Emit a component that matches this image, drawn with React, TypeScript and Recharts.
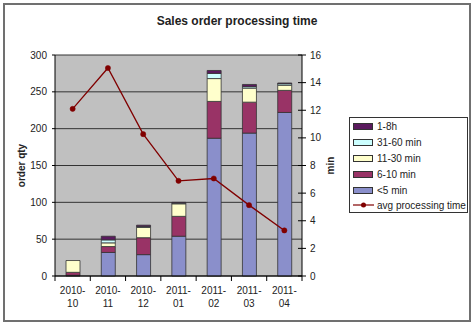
import React from 'react';
import {
  ComposedChart,
  Bar,
  Line,
  XAxis,
  YAxis,
  CartesianGrid,
  Legend,
  Label,
} from 'recharts';

// Monthly order counts split by processing-time bucket, plus the average time in minutes
const months = ['2010-10', '2010-11', '2010-12', '2011-01', '2011-02', '2011-03', '2011-04'];
const under5 = [1, 32, 29, 54, 187, 194, 222];
const min6to10 = [4, 8, 23, 27, 50, 42, 30];
const min11to30 = [16, 5, 14, 17, 31, 19, 7];
const min31to60 = [0, 4, 1, 1, 7, 2, 2];
const hours1to8 = [0, 5, 2, 1, 4, 3, 1];
const avgTime = [12.1, 15.06, 10.27, 6.89, 7.06, 5.13, 3.3];

const qtyTicks = [0, 50, 100, 150, 200, 250, 300];
const minTicks = [0, 2, 4, 6, 8, 10, 12, 14, 16];

const data = months.map((m, i) => ({
  month: m,
  under5: under5[i],
  min6to10: min6to10[i],
  min11to30: min11to30[i],
  min31to60: min31to60[i],
  hours1to8: hours1to8[i],
  avg: avgTime[i],
}));

const FONT = '"Liberation Sans", Arial, sans-serif';
const TEXT = '#222';

const C = {
  under5: '#8a8fcb',
  min6to10: '#993366',
  min11to30: '#ffffcc',
  min31to60: '#ccffff',
  hours1to8: '#5a1a5e',
  line: '#800000',
};

const legendItems = [
  { label: '1-8h', color: C.hours1to8 },
  { label: '31-60 min', color: C.min31to60 },
  { label: '11-30 min', color: C.min11to30 },
  { label: '6-10 min', color: C.min6to10 },
  { label: '<5 min', color: C.under5 },
];

const MonthTick = (props: any) => {
  const { x, y, payload, index, visibleTicksCount, width } = props;
  const band = width && visibleTicksCount ? width / visibleTicksCount : 35.4;
  const [year, mon] = String(payload.value).split('-');
  const last = index === (visibleTicksCount ?? 7) - 1;
  return (
    <g>
      <line x1={x - band / 2} x2={x - band / 2} y1={y} y2={y + 5} stroke="#000" />
      {last && <line x1={x + band / 2} x2={x + band / 2} y1={y} y2={y + 5} stroke="#000" />}
      <text x={x} y={y + 18} textAnchor="middle" fontSize={10} fontFamily={FONT} fill={TEXT}>
        {year + '-'}
      </text>
      <text x={x} y={y + 31} textAnchor="middle" fontSize={10} fontFamily={FONT} fill={TEXT}>
        {mon}
      </text>
    </g>
  );
};

const RightTick = (props: any) => {
  const { x, y, payload } = props;
  return (
    <g>
      <line x1={x - 4} x2={x + 4} y1={y} y2={y} stroke="#000" />
      <text x={x + 8} y={y + 3.5} fontSize={10} fontFamily={FONT} fill={TEXT}>
        {payload.value}
      </text>
    </g>
  );
};

const LegendBox = () => (
  <div
    style={{
      border: '1px solid #333',
      background: '#fff',
      width: 117,
      height: 94,
      fontFamily: FONT,
      fontSize: 10,
      color: TEXT,
      boxSizing: 'content-box',
    }}
  >
    {legendItems.map((it) => (
      <div key={it.label} style={{ height: 16, display: 'flex', alignItems: 'center', paddingLeft: 3 }}>
        <span
          style={{
            display: 'inline-block',
            width: 18,
            height: 5,
            background: it.color,
            border: '1px solid #333',
            marginRight: 4,
          }}
        />
        <span>{it.label}</span>
      </div>
    ))}
    <div style={{ height: 14, display: 'flex', alignItems: 'center', paddingLeft: 3 }}>
      <svg width={21} height={8} style={{ marginRight: 3 }}>
        <line x1={0} x2={21} y1={4} y2={4} stroke={C.line} strokeWidth={1.2} />
        <circle cx={10.5} cy={4} r={2.5} fill={C.line} />
      </svg>
      <span>avg processing time</span>
    </div>
  </div>
);

export default function App() {
  return (
    <div style={{ position: 'absolute', left: 0, top: 0, width: 474, height: 324, background: '#fff' }}>
      <div
        style={{
          position: 'absolute',
          left: 3,
          top: 3,
          width: 464,
          height: 315,
          border: '2px solid #707070',
        }}
      />
      <ComposedChart
        width={474}
        height={324}
        data={data}
        margin={{ top: 55, right: 132, bottom: 8, left: 15 }}
        barSize={14}
        style={{ fontFamily: FONT }}
      >
        <text x={237} y={25} textAnchor="middle" fontSize={12} fontWeight="bold" fontFamily={FONT} fill={TEXT}>
          Sales order processing time
        </text>
        <CartesianGrid yAxisId="left" vertical={false} stroke="#333" fill="#c0c0c0" fillOpacity={1} />
        <XAxis
          dataKey="month"
          height={40}
          tickLine={false}
          tickSize={0}
          tickMargin={0}
          axisLine={{ stroke: '#000' }}
          tick={<MonthTick />}
          interval={0}
        />
        <YAxis
          yAxisId="left"
          width={40}
          domain={[0, 300]}
          ticks={qtyTicks}
          interval={0}
          tickSize={3}
          tickMargin={5}
          tickLine={{ stroke: '#000' }}
          axisLine={{ stroke: '#000' }}
          tick={{ fontSize: 10, fill: TEXT, fontFamily: FONT }}
        >
          <Label
            content={(p: any) => {
              const vb = p.viewBox || { x: 15, y: 55, width: 40, height: 221 };
              const cx = vb.x + 6;
              const cy = vb.y + vb.height / 2;
              return (
                <text
                  x={cx}
                  y={cy}
                  transform={`rotate(-90 ${cx} ${cy})`}
                  textAnchor="middle"
                  dominantBaseline="central"
                  fontSize={10}
                  fontWeight="bold"
                  fontFamily={FONT}
                  fill={TEXT}
                >
                  order qty
                </text>
              );
            }}
          />
        </YAxis>
        <YAxis
          yAxisId="right"
          orientation="right"
          width={40}
          domain={[0, 16]}
          ticks={minTicks}
          interval={0}
          tickLine={false}
          tickSize={0}
          tickMargin={0}
          axisLine={{ stroke: '#000' }}
          tick={<RightTick />}
        >
          <Label
            content={(p: any) => {
              const vb = p.viewBox || { x: 302, y: 55, width: 40, height: 221 };
              const cx = vb.x + 28;
              const cy = vb.y + vb.height / 2;
              return (
                <text
                  x={cx}
                  y={cy}
                  transform={`rotate(-90 ${cx} ${cy})`}
                  textAnchor="middle"
                  dominantBaseline="central"
                  fontSize={10}
                  fontWeight="bold"
                  fontFamily={FONT}
                  fill={TEXT}
                >
                  min
                </text>
              );
            }}
          />
        </YAxis>
        <Legend
          layout="vertical"
          align="center"
          verticalAlign="middle"
          wrapperStyle={{ left: 349, top: 117, width: 119 }}
          content={<LegendBox />}
        />
        <Bar yAxisId="left" dataKey="under5" name="<5 min" stackId="s" fill={C.under5} stroke="#333" strokeWidth={0.8} isAnimationActive={false} />
        <Bar yAxisId="left" dataKey="min6to10" name="6-10 min" stackId="s" fill={C.min6to10} stroke="#333" strokeWidth={0.8} isAnimationActive={false} />
        <Bar yAxisId="left" dataKey="min11to30" name="11-30 min" stackId="s" fill={C.min11to30} stroke="#333" strokeWidth={0.8} isAnimationActive={false} />
        <Bar yAxisId="left" dataKey="min31to60" name="31-60 min" stackId="s" fill={C.min31to60} stroke="#333" strokeWidth={0.8} isAnimationActive={false} />
        <Bar yAxisId="left" dataKey="hours1to8" name="1-8h" stackId="s" fill={C.hours1to8} stroke="#333" strokeWidth={0.8} isAnimationActive={false} />
        <Line
          yAxisId="right"
          dataKey="avg"
          name="avg processing time"
          stroke={C.line}
          strokeWidth={1.3}
          dot={{ r: 2.6, fill: C.line, stroke: C.line, strokeWidth: 0.5 }}
          activeDot={false}
          isAnimationActive={false}
        />
      </ComposedChart>
    </div>
  );
}
